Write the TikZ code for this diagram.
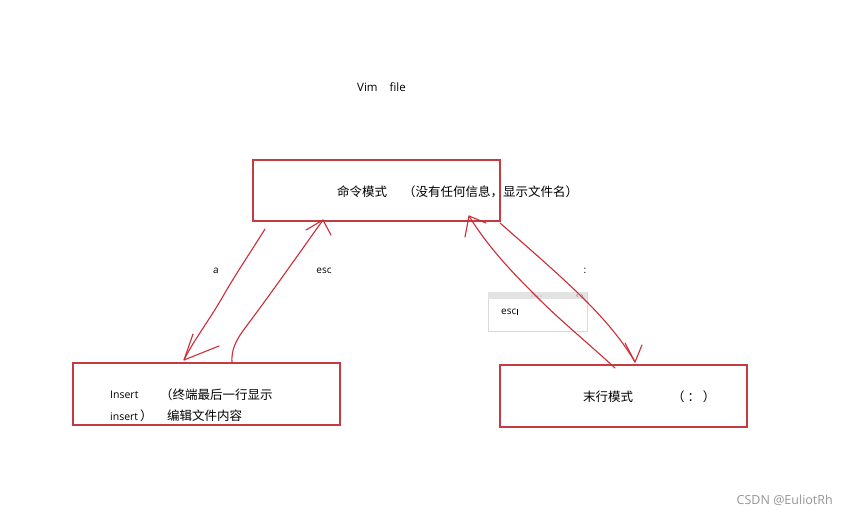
\documentclass[tikz,border=0pt]{standalone}
\usepackage{fontspec}
\setmainfont{Noto Sans CJK SC}
\newfontfamily\lat{Open Sans}
\definecolor{boxred}{RGB}{196,60,66}
\definecolor{penred}{RGB}{205,45,55}
\definecolor{wm}{RGB}{150,150,150}
\begin{document}
\begin{tikzpicture}[x=1pt,y=-1pt,
  modebox/.style={draw=boxred,line width=1.2pt,inner sep=0pt},
  pen/.style={draw=penred,line width=1.1pt,line cap=round,line join=round},
  txt/.style={inner sep=0pt,anchor=west,font=\fontsize{12.5}{14}\selectfont},
  ltxt/.style={inner sep=0pt,anchor=west,font=\lat\fontsize{10.5}{13}\selectfont},
  lbl/.style={inner sep=0pt,font=\lat\fontsize{10}{12}\selectfont}]
\useasboundingbox[fill=white] (0,0) rectangle (841,516);
% title
\node[ltxt,font=\lat\fontsize{11.5}{13}\selectfont] (title) at (357,87) {Vim\hspace{12pt}file};
% boxes
\node[modebox,minimum width=247pt,minimum height=61pt] (cmd) at (376.5,190.5) {};
\node[modebox,minimum width=267pt,minimum height=62pt] (ins) at (206.5,394) {};
\node[modebox,minimum width=247pt,minimum height=62pt] (last) at (623.5,396) {};
% box texts
\node[txt] (cmdt) at (337,192) {命令模式\hspace{16pt}（没有任何信息，显示文件名）};
\node[ltxt] (ins1) at (110,395) {Insert};
\node[txt] (ins2) at (160,395) {（终端最后一行显示};
\node[ltxt] (ins3) at (110,416) {insert\hspace{2pt}{\fontsize{12.5}{14}\selectfont\rmfamily）}};
\node[txt] (ins4) at (167,416) {编辑文件内容};
\node[txt] (lastt) at (583,397) {末行模式};
\node[txt] (lastp) at (672,397) {（ ： ）};
% small text window with esc
\node[draw=gray!30,line width=0.6pt,minimum width=99pt,minimum height=39pt,inner sep=0pt] (win) at (537.5,311.5) {};
\fill[gray!22] (win.north west) rectangle ([yshift=-7pt]win.north east);
\foreach \i in {0,1,2,3} \fill[gray!75] (532+\i*3,296) circle (0.7pt);
\draw[gray!75,line width=0.6pt] (578,294) -- (576.5,295.5) -- (578,297);
\draw[gray!75,line width=0.6pt] (581,294) -- (582.5,295.5) -- (581,297);
\node[ltxt,font=\lat\fontsize{10}{12}\selectfont] (esc2) at (501,312) {esc};
\draw[line width=0.5pt] ([xshift=0.8pt]esc2.north east) -- ([xshift=0.8pt]esc2.south east);
% labels
\node[lbl] (la) at (216,271) {a};
\node[lbl] (lesc) at (324,271) {esc};
\node[lbl] (lcol) at (585,271) {:};
% arrows: cmd -> insert (a)
\coordinate (a1) at (265,229);
\coordinate (a2) at (184,360);
\draw[pen] (a1) .. controls (252,250) and (235,275) .. (222,298) .. controls (208,322) and (192,343) .. (a2);
\draw[pen] (193,334) -- (a2) -- (219,346);
% insert -> cmd (esc)
\coordinate (e1) at (232,363);
\coordinate (e2) at (323,220);
\draw[pen] (e1) .. controls (231,350) and (236,340) .. (245,328) .. controls (270,295) and (300,252) .. (e2);
\draw[pen] (306,230) -- (e2) -- (331,235);
% last -> cmd (esc)
\coordinate (r1) at (615,368);
\coordinate (r2) at (469,216);
\draw[pen] (r1) .. controls (590,345) and (560,320) .. (540,300) .. controls (515,275) and (490,250) .. (r2);
\draw[pen] (465,237) -- (r2) -- (486,223);
% cmd -> last (:)
\coordinate (d1) at (500,223);
\coordinate (d2) at (635,362);
\draw[pen] (d1) .. controls (525,245) and (560,275) .. (585,300) .. controls (605,320) and (622,340) .. (d2);
\draw[pen] (625,343) -- (d2) -- (642,345);
% watermark
\node[inner sep=0pt,anchor=east,text=wm,font=\lat\fontsize{12.5}{14}\selectfont] (wmk) at (833,500) {CSDN @EuliotRh};
\end{tikzpicture}
\end{document}
